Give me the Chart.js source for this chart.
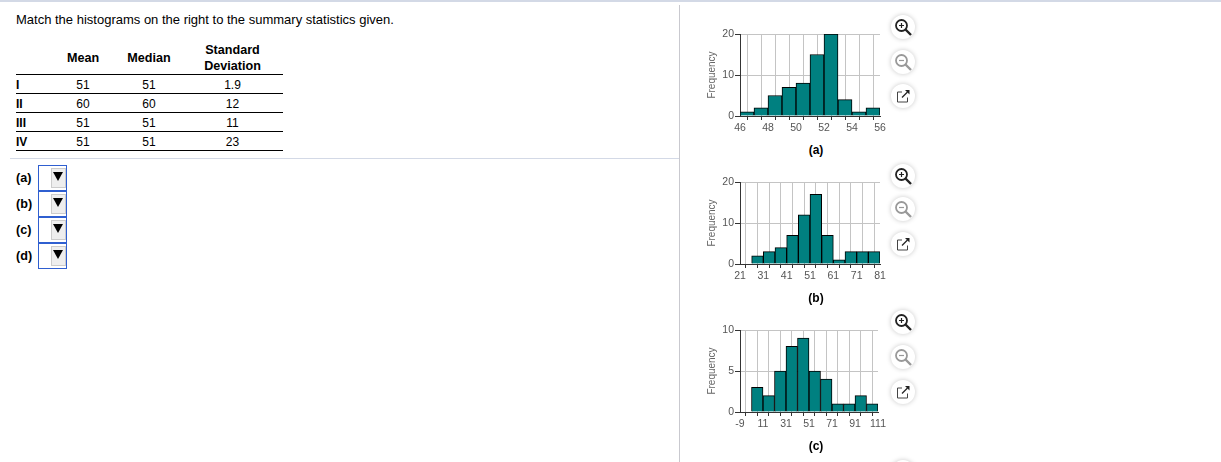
<!DOCTYPE html>
<html>
<head>
<meta charset="utf-8">
<script src="https://cdn.jsdelivr.net/npm/chart.js@4"></script>
<style>
  html, body { margin:0; padding:0; background:#fff; overflow:hidden; }
  body { width:1221px; height:462px; position:relative; font-family:"Liberation Sans", Arial, sans-serif; color:#000; }
  .abs { position:absolute; }
  .rule { position:absolute; background:#d3d9e6; }
  #stats { position:absolute; left:16px; top:39px; width:267px; border-collapse:collapse; table-layout:fixed; font-size:12px; }
  #stats th { font-weight:bold; font-size:12.6px; height:33px; padding:2px 0 0; line-height:16px; border-bottom:1px solid #000; }
  #stats td { height:17px; padding:1px 0 0; text-align:center; border-bottom:1px solid #000; }
  #stats td:first-child { text-align:left; font-weight:bold; }
  .pick-label { position:absolute; left:16px; font-size:12.6px; font-weight:bold; }
  .pick { position:absolute; left:38px; width:27px; height:24px; border:1px solid #2f5fd0; }
  .pick .btn { position:absolute; right:0; top:2px; width:15px; height:20px; background:#eee; border:1px solid #ccc; box-sizing:border-box; }
  .pick .btn:after { content:""; position:absolute; left:1px; top:3px; border-left:5px solid transparent; border-right:5px solid transparent; border-top:9px solid #000; }
  canvas { position:absolute; }
  .hist-label { position:absolute; width:60px; text-align:center; font-size:12px; font-weight:bold; }
  .icon { position:absolute; width:24px; height:24px; border-radius:12px; background:#fff; box-shadow:0 0 5px rgba(0,0,0,.22); }
</style>
</head>
<body>
<div class="rule" style="left:0;top:0;width:1221px;height:2px"></div>
<div class="rule" style="left:10px;top:158px;width:669px;height:1px"></div>
<div class="rule" style="left:679px;top:5px;width:1px;height:457px;background:#c9c9cf"></div>

<div class="abs" style="left:16px;top:12px;font-size:13px">Match the histograms on the right to the summary statistics given.</div>
<table id="stats">
  <colgroup><col style="width:34px"><col style="width:66px"><col style="width:66px"><col></colgroup>
  <thead><tr id="stats-head"></tr></thead>
  <tbody id="stats-body"></tbody>
</table>
<div id="picks"></div>

<canvas id="hist-a" width="190" height="120" style="left:700px;top:20px"></canvas>
<canvas id="hist-b" width="190" height="120" style="left:700px;top:168px"></canvas>
<canvas id="hist-c" width="190" height="120" style="left:700px;top:316px"></canvas>
<div class="hist-label" style="left:786px;top:143px">(a)</div>
<div class="hist-label" style="left:786px;top:291px">(b)</div>
<div class="hist-label" style="left:786px;top:439px">(c)</div>
<div id="icons"></div>

<script>
const colHeads = ['', 'Mean', 'Median', 'Standard<br>Deviation'];
const rowNames = ['I', 'II', 'III', 'IV'];
const means = ['51', '60', '51', '51'];
const medians = ['51', '60', '51', '51'];
const stdDevs = ['1.9', '12', '11', '23'];
const pickNames = ['(a)', '(b)', '(c)', '(d)'];

const aMids = [46.5, 47.5, 48.5, 49.5, 50.5, 51.5, 52.5, 53.5, 54.5, 55.5];
const aCounts = [1, 2, 5, 7, 8, 15, 20, 4, 1, 2];
const aLabels = [46, 48, 50, 52, 54, 56];

const bMids = [23.5, 28.5, 33.5, 38.5, 43.5, 48.5, 53.5, 58.5, 63.5, 68.5, 73.5, 78.5];
const bCounts = [0, 2, 3, 4, 7, 12, 17, 7, 1, 3, 3, 3];
const bLabels = [21, 31, 41, 51, 61, 71, 81];

const cMids = [-4, 6, 16, 26, 36, 46, 56, 66, 76, 86, 96, 106];
const cCounts = [0, 3, 2, 5, 8, 9, 5, 4, 1, 1, 2, 1];
const cLabels = [-9, 11, 31, 51, 71, 91, 111];

// table
document.getElementById('stats-head').innerHTML = colHeads.map(h => `<th>${h}</th>`).join('');
document.getElementById('stats-body').innerHTML = rowNames.map((r, i) =>
  `<tr><td>${r}</td><td>${means[i]}</td><td>${medians[i]}</td><td>${stdDevs[i]}</td></tr>`).join('');

// dropdowns
document.getElementById('picks').innerHTML = pickNames.map((p, i) => {
  const top = 165 + i * 26;
  return `<div class="pick-label" style="top:${top + 6}px">${p}</div><div class="pick" style="top:${top}px"><div class="btn"></div></div>`;
}).join('');

// zoom / popout buttons
const iconPlus = '<circle cx="10.5" cy="10.5" r="5.5" fill="none" stroke="#222" stroke-width="1.8"/><path d="M14.5 14.5L20 20" stroke="#222" stroke-width="2.4"/><path d="M8 10.5h5M10.5 8v5" stroke="#222" stroke-width="1.2"/>';
const iconMinus = '<circle cx="10.5" cy="10.5" r="5.5" fill="none" stroke="#999" stroke-width="1.8"/><path d="M14.5 14.5L20 20" stroke="#999" stroke-width="2.4"/><path d="M8 10.5h5" stroke="#999" stroke-width="1.2"/>';
const iconOut = '<path d="M11 8H6.5v10h10v-4.5" fill="none" stroke="#444" stroke-width="1"/><path d="M11 13.5l5.5-5.5" stroke="#222" stroke-width="1.2"/><path d="M14 6h4.5v4.5z" fill="#222"/>';
const iconTops = [[27, 62, 96], [176, 209, 244], [322, 357, 392]];
document.getElementById('icons').innerHTML = iconTops.flat().map((y, i) => {
  const glyph = [iconPlus, iconMinus, iconOut][i % 3];
  return `<div class="icon" style="left:891px;top:${y - 12}px"><svg width="24" height="24">${glyph}</svg></div>`;
}).join('') + '<div class="icon" style="left:891px;top:460px"></div>';

function histogram(id, mids, counts, labels, xMin, xMax, xStep, yMax, yStep, plotWidth) {
  return new Chart(document.getElementById(id), {
    type: 'bar',
    data: {
      datasets: [{
        data: mids.map((m, i) => ({ x: m, y: counts[i] })),
        backgroundColor: '#008080',
        borderColor: '#000',
        borderWidth: 1,
        barPercentage: 1,
        categoryPercentage: 1
      }]
    },
    options: {
      responsive: false,
      animation: false,
      layout: { padding: { top: 14, right: 190 - 40 - plotWidth, left: 6, bottom: 0 } },
      plugins: { legend: { display: false }, tooltip: { enabled: false } },
      scales: {
        x: {
          type: 'linear', min: xMin, max: xMax, offset: false,
          afterFit: s => { s.height = 24; },
          grid: { color: '#c4c4c4', tickColor: '#333', tickLength: 4, lineWidth: 1 },
          border: { color: '#333' },
          ticks: {
            stepSize: xStep, autoSkip: false, maxRotation: 0, padding: 2,
            color: '#555', font: { family: 'Liberation Sans', size: 10.5 },
            callback: v => labels.includes(Math.round(v)) ? String(Math.round(v)) : ''
          }
        },
        y: {
          min: 0, max: yMax,
          afterFit: s => { s.width = 34; },
          grid: { color: '#c4c4c4', tickColor: '#333', tickLength: 5 },
          border: { color: '#333' },
          ticks: { stepSize: yStep, padding: 1, color: '#555', font: { family: 'Liberation Sans', size: 10.5 } },
          title: { display: true, text: 'Frequency', color: '#666', padding: 0, font: { family: 'Liberation Sans', size: 10 } }
        }
      }
    }
  });
}

histogram('hist-a', aMids, aCounts, aLabels, 46, 56, 1, 20, 10, 140);
histogram('hist-b', bMids, bCounts, bLabels, 21, 81, 5, 20, 10, 140);
histogram('hist-c', cMids, cCounts, cLabels, -9, 111, 10, 10, 5, 138);
</script>
</body>
</html>
